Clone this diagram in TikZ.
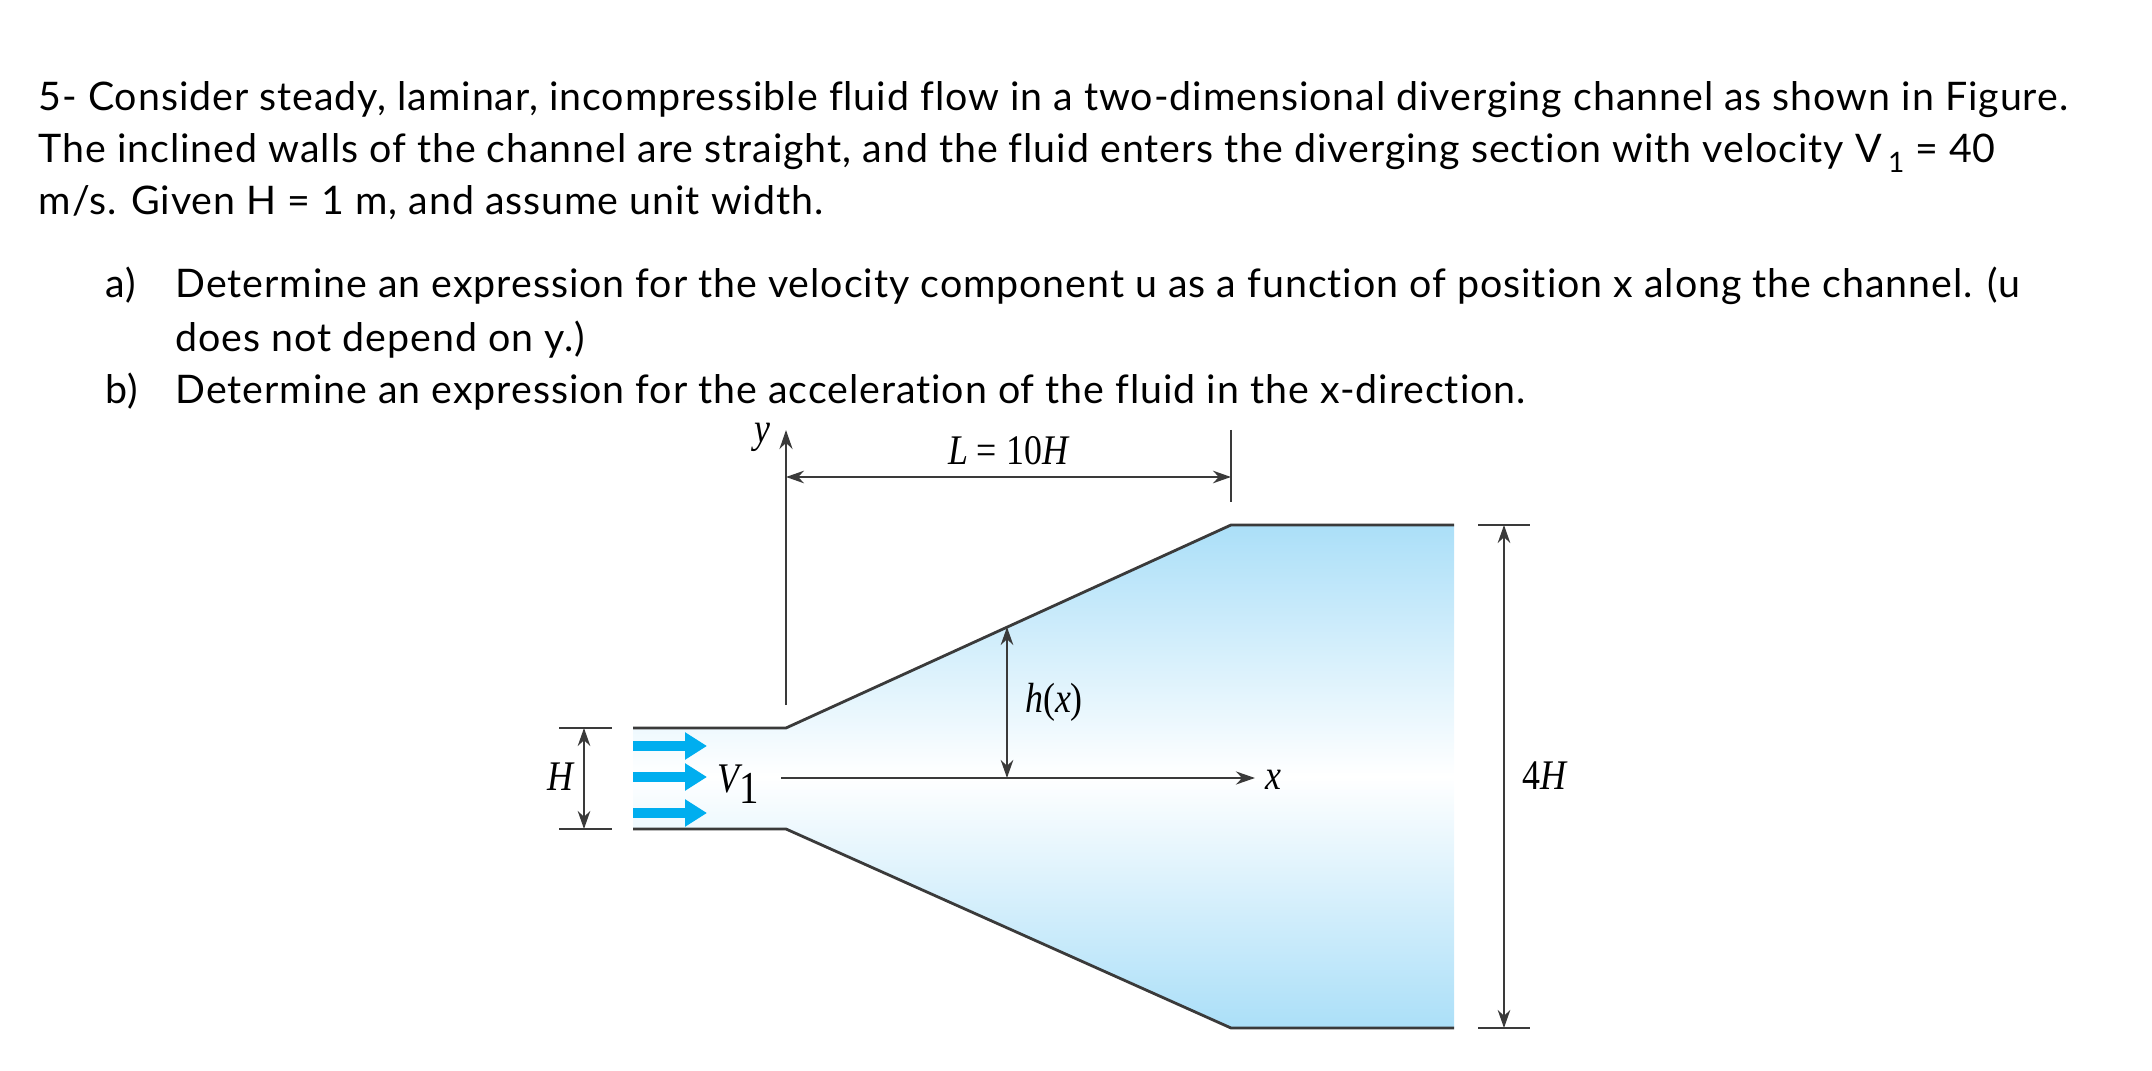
\documentclass[tikz,border=0pt]{standalone}
\usepackage{fontspec}
\usepackage{tikz}
\usetikzlibrary{arrows.meta}
\setmainfont[LetterSpace=2.4,Ligatures=NoCommon]{Lato}
\newfontfamily\labelfont[FakeStretch=0.85]{Liberation Serif}
\definecolor{chanblue}{HTML}{ABDFF8}
\definecolor{flowblue}{HTML}{00AEEF}
\definecolor{wallgray}{HTML}{3A3A3A}
\tikzset{
    textline/.style={anchor=base west,inner sep=0pt,font=\fontsize{11.2}{14}\selectfont},
    figlabel/.style={inner sep=0pt,font=\labelfont\fontsize{12}{14}\selectfont},
    figital/.style={inner sep=0pt,font=\labelfont\itshape\fontsize{12}{14}\selectfont},
    wall/.style={draw=wallgray,line width=0.8pt},
    axis/.style={wall,-{Stealth[length=0.19cm,width=0.13cm]}},
    dimline/.style={draw=wallgray,line width=0.7pt,{Stealth[length=0.18cm,width=0.125cm]}-{Stealth[length=0.18cm,width=0.125cm]}},
    flowarrow/.style={draw=flowblue,line width=2.6pt,-{Triangle[length=0.22cm,width=0.26cm]}}
}
\begin{document}
\begin{tikzpicture}
    \useasboundingbox (0,0) rectangle (21.52,-10.71);

    % Text
    \node[textline] (lineone) at (0.38,-1.11) {5- Consider steady, laminar, incompressible fluid flow in a two-dimensional diverging channel as shown in Figure.};
    \node[textline] (linetwo) at (0.38,-1.63) {The inclined walls of the channel are straight, and the fluid enters the diverging section with velocity V\,\raisebox{-0.5ex}{\footnotesize 1} = 40};
    \node[textline] (linethree) at (0.38,-2.15) {m/s. Given H = 1 m, and assume unit width.};
    \node[textline] (parta) at (1.05,-2.98) {a)};
    \node[textline] (partatext) at (1.75,-2.98) {Determine an expression for the velocity component u as a function of position x along the channel. (u};
    \node[textline] (partamore) at (1.75,-3.52) {does not depend on y.)};
    \node[textline] (partb) at (1.05,-4.04) {b)};
    \node[textline] (partbtext) at (1.75,-4.04) {Determine an expression for the acceleration of the fluid in the x-direction.};

    % Channel corners
    \coordinate (intop) at (6.33,-7.28);
    \coordinate (neckup) at (7.86,-7.28);
    \coordinate (wideup) at (12.31,-5.25);
    \coordinate (endup) at (14.54,-5.25);
    \coordinate (enddown) at (14.54,-10.28);
    \coordinate (widedown) at (12.31,-10.28);
    \coordinate (neckdown) at (7.86,-8.29);
    \coordinate (inbot) at (6.33,-8.29);

    \shade[top color=chanblue,bottom color=chanblue,middle color=white] (intop) -- (neckup) -- (wideup) -- (endup) -- (enddown) -- (widedown) -- (neckdown) -- (inbot) -- cycle;
    \draw[wall] (intop) -- (neckup) -- (wideup) -- (endup); % Upper wall
    \draw[wall] (inbot) -- (neckdown) -- (widedown) -- (enddown); % Lower wall

    % Axes
    \coordinate (yfoot) at (7.86,-7.05);
    \coordinate (ytip) at (7.86,-4.30);
    \coordinate (xfoot) at (7.81,-7.78);
    \coordinate (xtip) at (12.55,-7.78);
    \draw[axis] (yfoot) -- (ytip);
    \draw[axis] (xfoot) -- (xtip);
    \node[figital] (ylabel) at (7.62,-4.37) {y};
    \node[figital] (xlabel) at (12.73,-7.80) {x};

    % L = 10H
    \coordinate (ltickup) at (12.31,-4.30);
    \coordinate (ltickdown) at (12.31,-5.02);
    \coordinate (lleft) at (7.86,-4.77);
    \coordinate (lright) at (12.31,-4.77);
    \draw[wall] (ltickup) -- (ltickdown);
    \draw[dimline] (lleft) -- (lright);
    \node[figlabel] (llabel) at (10.08,-4.51) {{\itshape L} = 10{\itshape H}};

    % h(x)
    \coordinate (hup) at (10.07,-6.27);
    \coordinate (hdown) at (10.07,-7.78);
    \draw[dimline] (hup) -- (hdown);
    \node[figlabel] (hlabel) at (10.54,-7.02) {{\itshape h}({\itshape x})};

    % 4H
    \coordinate (ftickaleft) at (14.78,-5.25);
    \coordinate (ftickaright) at (15.30,-5.25);
    \coordinate (ftickbleft) at (14.78,-10.28);
    \coordinate (ftickbright) at (15.30,-10.28);
    \coordinate (fup) at (15.04,-5.25);
    \coordinate (fdown) at (15.04,-10.28);
    \draw[wall] (ftickaleft) -- (ftickaright);
    \draw[wall] (ftickbleft) -- (ftickbright);
    \draw[dimline] (fup) -- (fdown);
    \node[figlabel] (flabel) at (15.44,-7.76) {4{\itshape H}};

    % H
    \coordinate (htickaleft) at (5.59,-7.28);
    \coordinate (htickaright) at (6.12,-7.28);
    \coordinate (htickbleft) at (5.59,-8.29);
    \coordinate (htickbright) at (6.12,-8.29);
    \coordinate (bigup) at (5.84,-7.28);
    \coordinate (bigdown) at (5.84,-8.29);
    \draw[wall] (htickaleft) -- (htickaright);
    \draw[wall] (htickbleft) -- (htickbright);
    \draw[dimline] (bigup) -- (bigdown);
    \node[figital] (biglabel) at (5.60,-7.77) {H};

    % Inlet flow
    \foreach \name/\ypos in {flowa/-7.46,flowb/-7.77,flowc/-8.13} {
        \coordinate (\name start) at (6.33,\ypos);
        \coordinate (\name end) at (7.07,\ypos);
        \draw[flowarrow] (\name start) -- (\name end);
    }
    \node[figlabel] (vlabel) at (7.38,-7.84) {{\itshape V}\raisebox{-0.6ex}{\fontsize{13}{13}\selectfont 1}};
\end{tikzpicture}
\end{document}
